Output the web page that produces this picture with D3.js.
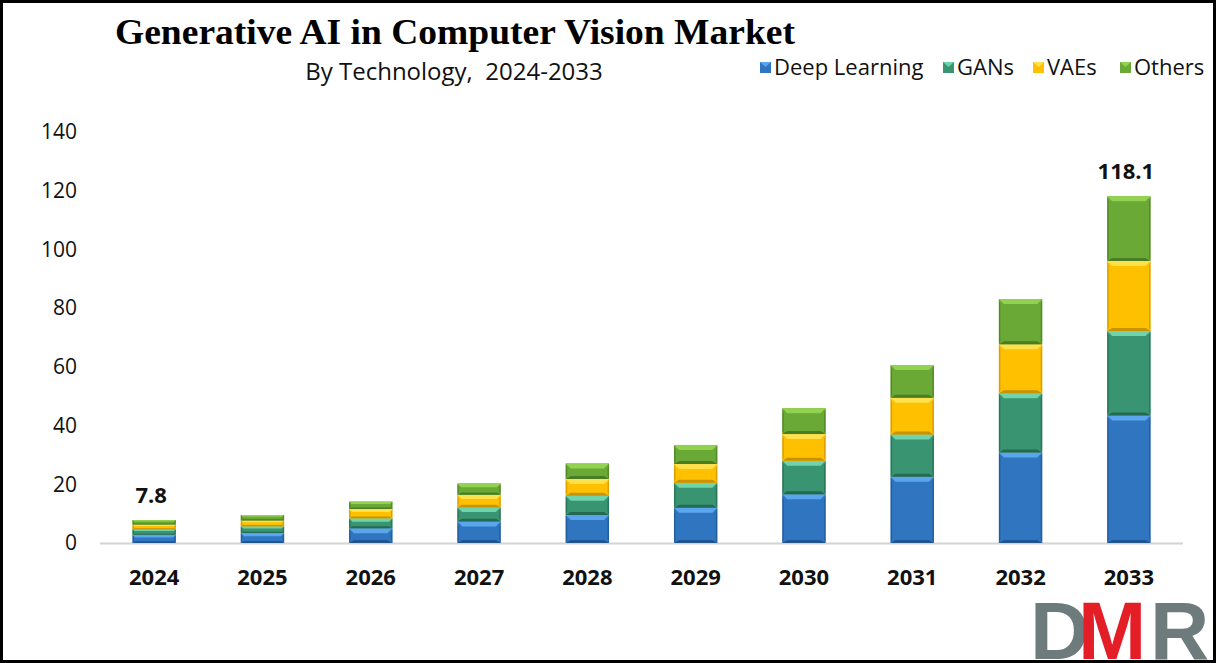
<!DOCTYPE html>
<html>
<head>
<meta charset="utf-8">
<script src="https://cdn.jsdelivr.net/npm/d3@7"></script>
<style>
  html, body { margin: 0; padding: 0; background: #fff; }
  svg { display: block; }
</style>
</head>
<body>
<div id="chart"></div>
<script>
const width = 1216,
  height = 663;

// data
const years = ["2024", "2025", "2026", "2027", "2028", "2029", "2030", "2031", "2032", "2033"];
const deepLearning = [2.8, 3.4, 5.0, 7.3, 9.5, 12.0, 16.6, 22.6, 30.8, 43.4];
const gans = [1.9, 2.3, 3.4, 4.9, 6.6, 8.5, 11.4, 14.4, 20.2, 28.8];
const vaes = [1.6, 2.0, 3.2, 4.2, 5.7, 6.4, 9.1, 12.5, 16.7, 23.9];
const others = [1.5, 1.8, 2.5, 3.9, 5.3, 6.5, 8.8, 11.1, 15.4, 22.0];
const seriesNames = ["Deep Learning", "GANs", "VAEs", "Others"];
const yTicks = [0, 20, 40, 60, 80, 100, 120, 140];
const labelled = { "2024": "7.8", "2033": "118.1" };

const colors = {
  "Deep Learning": { base: "#2f75c0", light: "#5aa6ee", dark: "#1f5492" },
  "GANs": { base: "#399472", light: "#6fd3ab", dark: "#246a50" },
  "VAEs": { base: "#ffc000", light: "#ffe14d", dark: "#c99200" },
  "Others": { base: "#6aa935", light: "#93d150", dark: "#4a7d22" }
};

const table = years.map((y, i) => ({
  year: y,
  "Deep Learning": deepLearning[i],
  "GANs": gans[i],
  "VAEs": vaes[i],
  "Others": others[i]
}));

const stacked = d3.stack().keys(seriesNames)(table);

const svg = d3.select("#chart").append("svg")
  .attr("width", width)
  .attr("height", height);

svg.append("rect").attr("width", width).attr("height", height).attr("fill", "#fff");

const x = d3.scaleBand()
  .domain(years)
  .range([100, 1183])
  .paddingInner(0.6)
  .paddingOuter(0.3);

const y = d3.scaleLinear()
  .domain([0, 140])
  .range([543, 132]);

// y axis labels (no line)
const yAxis = svg.append("g")
  .attr("transform", "translate(77,0)")
  .call(d3.axisLeft(y).tickValues(yTicks).tickSize(0).tickPadding(0));
yAxis.select(".domain").remove();
yAxis.selectAll("text")
  .attr("font-family", "'Open Sans', sans-serif")
  .attr("font-size", 21)
  .attr("fill", "#111");

// baseline
svg.append("line")
  .attr("x1", 100).attr("x2", 1183)
  .attr("y1", y(0) + 0.5).attr("y2", y(0) + 0.5)
  .attr("stroke", "#d4d4d4")
  .attr("stroke-width", 2);

// x axis labels
const xAxis = svg.append("g")
  .attr("transform", `translate(0,${y(0)})`)
  .call(d3.axisBottom(x).tickSize(0).tickPadding(26));
xAxis.select(".domain").remove();
xAxis.selectAll("text")
  .attr("font-family", "'Open Sans', sans-serif")
  .attr("font-weight", "bold")
  .attr("font-size", 22)
  .attr("fill", "#111");

// stacked bars with a bevel look
const layers = svg.append("g")
  .selectAll("g")
  .data(stacked)
  .join("g");

layers.each(function (layer) {
  const c = colors[layer.key];
  const seg = d3.select(this).selectAll("g")
    .data(layer)
    .join("g");

  seg.each(function (d) {
    const g = d3.select(this);
    const x0 = x(d.data.year), x1 = x0 + x.bandwidth();
    const yTop = y(d[1]), yBot = y(d[0]);
    const h = yBot - yTop;
    const b = Math.min(5, h / 3);

    g.append("rect")
      .attr("x", x0).attr("y", yTop)
      .attr("width", x1 - x0).attr("height", h)
      .attr("fill", c.base);
    // top highlight
    g.append("polygon")
      .attr("points", [[x0, yTop], [x1, yTop], [x1 - b, yTop + b], [x0 + b, yTop + b]].join(" "))
      .attr("fill", c.light);
    // bottom shade
    g.append("polygon")
      .attr("points", [[x0, yBot], [x1, yBot], [x1 - b, yBot - b * 0.6], [x0 + b, yBot - b * 0.6]].join(" "))
      .attr("fill", c.dark);
    // sides
    g.append("polygon")
      .attr("points", [[x0, yTop], [x0 + 1.5, yTop + b], [x0 + 1.5, yBot - b * 0.6], [x0, yBot]].join(" "))
      .attr("fill", c.dark).attr("opacity", 0.7);
    g.append("polygon")
      .attr("points", [[x1, yTop], [x1 - 1.5, yTop + b], [x1 - 1.5, yBot - b * 0.6], [x1, yBot]].join(" "))
      .attr("fill", c.dark).attr("opacity", 0.7);
  });
});

// total labels
const topLayer = stacked[stacked.length - 1];
svg.append("g")
  .selectAll("text")
  .data(topLayer.filter(d => labelled[d.data.year]))
  .join("text")
  .attr("x", d => x(d.data.year) + x.bandwidth() / 2 - 3)
  .attr("y", d => y(d[1]) - 17)
  .attr("text-anchor", "middle")
  .attr("font-family", "'Open Sans', sans-serif")
  .attr("font-weight", "bold")
  .attr("font-size", 22)
  .attr("fill", "#111")
  .text(d => labelled[d.data.year]);

// title
svg.append("text")
  .attr("x", 115).attr("y", 44)
  .attr("font-family", "'Liberation Serif', 'Times New Roman', serif")
  .attr("font-weight", "bold")
  .attr("font-size", 36)
  .attr("textLength", 680)
  .attr("lengthAdjust", "spacingAndGlyphs")
  .attr("fill", "#000")
  .text("Generative AI in Computer Vision Market");

svg.append("text")
  .attr("x", 454).attr("y", 80)
  .attr("text-anchor", "middle")
  .attr("font-family", "'Open Sans', sans-serif")
  .attr("font-size", 24)
  .attr("fill", "#111")
  .style("white-space", "pre")
  .text("By Technology,  2024-2033");

// legend
const legendX = [760, 943, 1033, 1120];
const legend = svg.append("g")
  .selectAll("g")
  .data(seriesNames)
  .join("g")
  .attr("transform", (d, i) => `translate(${legendX[i]},62)`);

legend.append("rect")
  .attr("width", 11).attr("height", 11)
  .attr("fill", d => colors[d].base);
legend.append("polygon")
  .attr("points", "0,0 11,0 5.5,5")
  .attr("fill", d => colors[d].light);
legend.append("text")
  .attr("x", 14).attr("y", 13)
  .attr("font-family", "'Open Sans', sans-serif")
  .attr("font-size", 22)
  .attr("fill", "#111")
  .text(d => d);

// logo
const logo = svg.append("g")
  .attr("font-family", "'Liberation Sans', Arial, sans-serif")
  .attr("font-weight", "bold")
  .attr("font-size", 82);
logo.append("text").attr("x", 1030).attr("y", 659).attr("fill", "#6e7b7c").text("D");
logo.append("text").attr("x", 1078).attr("y", 659).attr("fill", "#e41e26").text("M");
logo.append("text").attr("x", 1150).attr("y", 659).attr("fill", "#6e7b7c").text("R");

// frame
svg.append("rect")
  .attr("x", 1.5).attr("y", 1.5)
  .attr("width", width - 3).attr("height", height - 3)
  .attr("fill", "none")
  .attr("stroke", "#000")
  .attr("stroke-width", 3);
</script>
</body>
</html>
